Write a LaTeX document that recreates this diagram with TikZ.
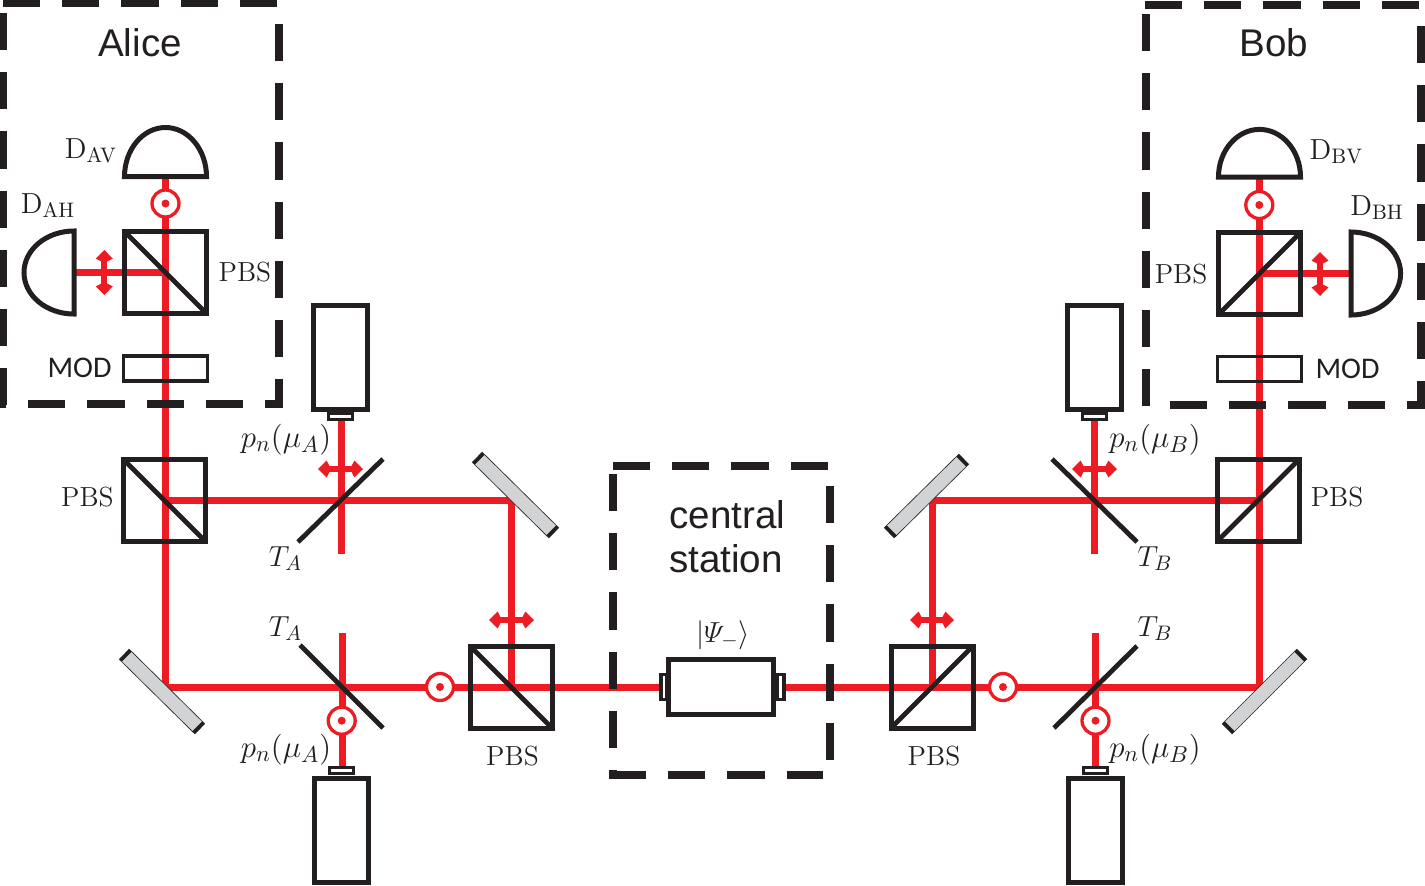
\RequirePackage{fix-cm}
\documentclass[tikz,border=0pt]{standalone}
\usepackage{amsmath}
\usepackage[no-math]{fontspec}
\newfontfamily\labelsans{Liberation Sans}
\newfontfamily\modsans{Carlito}
\usetikzlibrary{arrows.meta}
\DeclareMathSizes{14.5}{14.5}{10.5}{8}
\DeclareMathSizes{15.5}{15.5}{11.5}{9}
\definecolor{inkblack}{HTML}{231F20}
\definecolor{beamred}{HTML}{ED1C24}
\definecolor{mirrorgray}{HTML}{D1D3D4}
\newcommand{\polcircle}[2]{\node[polring] (#1) at (#2) {};\fill[beamred] (#1.center) circle[radius=2pt];}
\newcommand{\mirrorbar}[2]{\draw[mirrorouter] (#1) -- (#2);\draw[mirrorinner] (#1) -- (#2);}
\tikzset{
  x=0.5pt,y=-0.5pt,
  beam/.style={draw=beamred,line width=3.5pt},
  pbsbox/.style={draw=inkblack,line width=2.5pt,minimum size=41pt,inner sep=0pt,outer sep=0pt},
  splitline/.style={draw=inkblack,line width=2.4pt},
  modbox/.style={draw=inkblack,line width=1.9pt,minimum width=42pt,minimum height=12.5pt,inner sep=0pt,outer sep=0pt},
  detector/.style={draw=inkblack,line width=2.5pt,line join=miter},
  lasersrc/.style={draw=inkblack,fill=white,line width=2.5pt,minimum width=27pt,minimum height=52pt,inner sep=0pt,outer sep=0pt},
  lasertip/.style={draw=inkblack,fill=white,line width=1.8pt,minimum width=12pt,minimum height=3pt,inner sep=0pt,outer sep=0pt},
  pairsrc/.style={draw=inkblack,fill=white,line width=2.5pt,minimum width=52.5pt,minimum height=27.5pt,inner sep=0pt,outer sep=0pt},
  pairtip/.style={draw=inkblack,fill=white,line width=1.8pt,minimum width=3.25pt,minimum height=12.5pt,inner sep=0pt,outer sep=0pt},
  polring/.style={circle,draw=beamred,fill=white,line width=1.65pt,minimum size=13.5pt,inner sep=0pt,outer sep=0pt},
  polarrow/.style={draw=beamred,fill=beamred,line width=3pt,{Kite[width=8.5pt,length=6.5pt,inset=2.2pt]}-{Kite[width=8.5pt,length=6.5pt,inset=2.2pt]}},
  mirrorouter/.style={draw=inkblack,line width=7.4pt},
  mirrorinner/.style={draw=mirrorgray,line width=6.6pt,shorten >=2pt,shorten <=2pt},
  dashbox/.style={draw=inkblack,line width=3.75pt,dash pattern=on 18.6pt off 11pt},
  title/.style={anchor=base,inner sep=0pt,text=inkblack,font=\labelsans\fontsize{19.3}{23}\selectfont},
  modlabel/.style={anchor=base,inner sep=0pt,text=inkblack,font=\modsans\fontsize{15}{18}\selectfont},
  serif/.style={anchor=base,inner sep=0pt,text=inkblack,font=\fontsize{13.8}{16}\selectfont},
  mathlabel/.style={anchor=base,inner sep=0pt,text=inkblack,font=\fontsize{14.5}{17}\selectfont},
  pnlabel/.style={anchor=base,inner sep=0pt,text=inkblack,font=\fontsize{15.5}{18}\selectfont},
}
\begin{document}
\begin{tikzpicture}
\useasboundingbox (0,0) rectangle (1425,885);
% beam vertices
\coordinate (aTop) at (165.5,177);
\coordinate (aH) at (165.5,272.5);
\coordinate (aDet) at (74,272.5);
\coordinate (aMid) at (165.5,500.5);
\coordinate (aLow) at (165.5,687);
\coordinate (aMirTop) at (511.5,500.5);
\coordinate (aJoin) at (511.5,687);
\coordinate (aPair) at (661,687);
\coordinate (bTop) at (1259.5,177);
\coordinate (bH) at (1259.5,273.5);
\coordinate (bDet) at (1351,273.5);
\coordinate (bMid) at (1259.5,500.5);
\coordinate (bLow) at (1259.5,687);
\coordinate (bMirTop) at (932,500.5);
\coordinate (bJoin) at (932,687);
\coordinate (bPair) at (784,687);
\coordinate (taTopA) at (341,414);
\coordinate (taTopB) at (341,554);
\coordinate (taLowA) at (342,633);
\coordinate (taLowB) at (342,768);
\coordinate (tbTopA) at (1094.5,414);
\coordinate (tbTopB) at (1094.5,554);
\coordinate (tbLowA) at (1095.5,633);
\coordinate (tbLowB) at (1095.5,768);
% beams
\draw[beam] (aTop) -- (aLow) -- (aPair);
\draw[beam] (aDet) -- (aH);
\draw[beam] (aMid) -- (aMirTop) -- (aJoin);
\draw[beam] (bTop) -- (bLow) -- (bPair);
\draw[beam] (bDet) -- (bH);
\draw[beam] (bMid) -- (bMirTop) -- (bJoin);
\draw[beam] (taTopA) -- (taTopB);
\draw[beam] (taLowA) -- (taLowB);
\draw[beam] (tbTopA) -- (tbTopB);
\draw[beam] (tbLowA) -- (tbLowB);
% polarizing beam splitters
\foreach \nm/\pos/\sa/\sb in {pbsA1/{165.5,272.5}/north west/south east,pbsA2/{164.5,500.5}/north west/south east,pbsA3/{511,687}/north west/south east,pbsB1/{1259.5,273.5}/south west/north east,pbsB2/{1258,500.5}/south west/north east,pbsB3/{932,687}/south west/north east}{
  \node[pbsbox] (\nm) at (\pos) {};
  \draw[splitline] (\nm.\sa) -- (\nm.\sb);
}
% modulators
\node[modbox] (modA) at (165.5,368.5) {};
\node[modbox] (modB) at (1259.5,369) {};
% detectors
\draw[detector] (124.5,176.7) coordinate (detAV) arc[start angle=180,end angle=0,x radius=20.5pt,y radius=24.6pt] -- cycle;
\draw[detector] (74,231) coordinate (detAH) arc[start angle=90,end angle=270,x radius=25pt,y radius=20.75pt] -- cycle;
\draw[detector] (1218.5,177) coordinate (detBV) arc[start angle=180,end angle=0,x radius=20.5pt,y radius=23.8pt] -- cycle;
\draw[detector] (1351,232) coordinate (detBH) arc[start angle=90,end angle=-90,x radius=24.8pt,y radius=20.75pt] -- cycle;
% mirrors
\coordinate (m1a) at (124,654); \coordinate (m1b) at (200,729);
\coordinate (m2a) at (477,457); \coordinate (m2b) at (554,533);
\coordinate (m3a) at (964,459); \coordinate (m3b) at (889,533);
\coordinate (m4a) at (1302,654); \coordinate (m4b) at (1227,729);
\mirrorbar{m1a}{m1b}
\mirrorbar{m2a}{m2b}
\mirrorbar{m3a}{m3b}
\mirrorbar{m4a}{m4b}
% tunable beam splitters
\coordinate (t1a) at (298,542); \coordinate (t1b) at (383,459);
\coordinate (t2a) at (300,645); \coordinate (t2b) at (383,728);
\coordinate (t3a) at (1052,459); \coordinate (t3b) at (1137,542);
\coordinate (t4a) at (1054,728); \coordinate (t4b) at (1137,646);
\draw[splitline] (t1a) -- (t1b);
\draw[splitline] (t2a) -- (t2b);
\draw[splitline] (t3a) -- (t3b);
\draw[splitline] (t4a) -- (t4b);
% weak coherent sources
\node[lasertip] (tip1) at (340.5,416.5) {};
\node[lasersrc] (src1) at (340.5,357.5) {};
\node[lasertip] (tip2) at (341.5,770.5) {};
\node[lasersrc] (src2) at (341.5,830) {};
\node[lasertip] (tip3) at (1094.5,416.5) {};
\node[lasersrc] (src3) at (1094.5,357.5) {};
\node[lasertip] (tip4) at (1095.5,770.5) {};
\node[lasersrc] (src4) at (1095.5,830) {};
% pair source
\node[pairtip] (pairL) at (664,687) {};
\node[pairtip] (pairR) at (780.5,687) {};
\node[pairsrc] (pair) at (721,687) {};
% polarization marks
\polcircle{c1}{165.5,203.5}
\polcircle{c2}{440,687}
\polcircle{c3}{341.7,720.7}
\polcircle{c4}{1003,687}
\polcircle{c5}{1095.5,720.7}
\polcircle{c6}{1259.3,205}
\coordinate (ar1a) at (104.3,250); \coordinate (ar1b) at (104.3,295);
\coordinate (ar2a) at (318,469); \coordinate (ar2b) at (363,469);
\coordinate (ar3a) at (489,620); \coordinate (ar3b) at (534,620);
\coordinate (ar4a) at (910,620); \coordinate (ar4b) at (954,620);
\coordinate (ar5a) at (1072,469); \coordinate (ar5b) at (1117,469);
\coordinate (ar6a) at (1320,252); \coordinate (ar6b) at (1320,296);
\draw[polarrow] (ar1a) -- (ar1b);
\draw[polarrow] (ar2a) -- (ar2b);
\draw[polarrow] (ar3a) -- (ar3b);
\draw[polarrow] (ar4a) -- (ar4b);
\draw[polarrow] (ar5a) -- (ar5b);
\draw[polarrow] (ar6a) -- (ar6b);
% dashed enclosures
\draw[dashbox] (3,3) -- (279,3) (3.5,13) -- (3.5,407) (279,24) -- (279,406) (283,404) -- (265,404) (243,404) -- (0,404);
\draw[dashbox] (1145,5) -- (1425,5) (1146,14) -- (1146,408) (1421,26) -- (1421,407) (1170,405) -- (1425,405);
\draw[dashbox] (613,466) -- (828,466) (613,474) -- (613,775) (830,486) -- (830,760) (609,775) -- (823,775);
% labels
\node[title] (tAlice) at (140,56) {Alice};
\node[title] (tBob) at (1274,56) {Bob};
\node[title] (tCentral) at (727.5,528) {central};
\node[title] (tStation) at (726,572) {station};
\node[modlabel] (lModA) at (79.5,377) {MOD};
\node[modlabel] (lModB) at (1347.5,378) {MOD};
\node[serif] (lP1) at (245,281) {PBS};
\node[serif] (lP2) at (87.5,506) {PBS};
\node[serif] (lP3) at (512.5,765) {PBS};
\node[serif] (lP4) at (934,765) {PBS};
\node[serif] (lP5) at (1337,506) {PBS};
\node[serif] (lP6) at (1181,283) {PBS};
\node[mathlabel] (lDAV) at (91,158) {$\mathrm{D}_{\mathrm{AV}}$};
\node[mathlabel] (lDAH) at (48,213) {$\mathrm{D}_{\mathrm{AH}}$};
\node[mathlabel] (lDBV) at (1336.5,159) {$\mathrm{D}_{\mathrm{BV}}$};
\node[mathlabel] (lDBH) at (1377,215) {$\mathrm{D}_{\mathrm{BH}}$};
\node[pnlabel] (lPn1) at (286,447) {$p_n(\mu_A)$};
\node[pnlabel] (lPn2) at (286,757) {$p_n(\mu_A)$};
\node[pnlabel] (lPn3) at (1155,447) {$p_n(\mu_B)$};
\node[pnlabel] (lPn4) at (1155,757) {$p_n(\mu_B)$};
\node[mathlabel] (lT1) at (285.5,566) {$T_A$};
\node[mathlabel] (lT2) at (285.5,636) {$T_A$};
\node[mathlabel] (lT3) at (1155,566) {$T_B$};
\node[mathlabel] (lT4) at (1155,636) {$T_B$};
\node[mathlabel] (lPsi) at (723,642) {$|\varPsi_{-}\rangle$};
\end{tikzpicture}
\end{document}
